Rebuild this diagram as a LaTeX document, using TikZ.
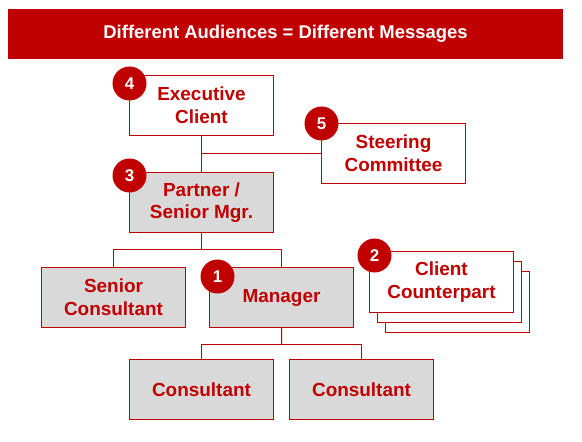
\documentclass[tikz,border=0pt]{standalone}
\usepackage{fontspec}
\setmainfont{Liberation Sans}
\usetikzlibrary{positioning}
\definecolor{deepred}{RGB}{192,0,0}
\definecolor{boxgray}{RGB}{217,217,217}

\begin{document}
\begin{tikzpicture}[x=1bp,y=-1bp,
  role/.style={draw=deepred,line width=1bp,outer sep=0pt,minimum width=144bp,minimum height=60bp,
    inner sep=0pt,align=center,text=deepred,font=\fontsize{19}{22.7}\selectfont\bfseries},
  staff/.style={role,fill=boxgray},
  client/.style={role,fill=white},
  badge/.style={circle,fill=deepred,minimum size=34bp,inner sep=0pt,text=white,
    font=\fontsize{17}{17}\selectfont\bfseries},
  link/.style={deepred,line width=1bp}]
\useasboundingbox (0,0) rectangle (582,442);

% title bar
\node[fill=deepred,minimum width=555bp,minimum height=50bp,inner sep=0pt,text=white,
  font=\fontsize{18.5}{20}\selectfont\bfseries] (title) at (285.5,34)
  {Different Audiences = Different Messages};

\begin{scope}[shift={(0.5,0.5)}]
% client side
\node[client] (exec) at (201,105) {Executive\\Client};
\node[client] (steer) at (393,153) {Steering\\Committee};
\node[client] (cc3) at (457,301.5) {};
\node[client] (cc2) at (449,291.5) {};
\node[client] (cc) at (441,281.5) {Client\\Counterpart};

% firm side
\node[staff] (partner) at (201,202) {Partner /\\Senior Mgr.};
\node[staff] (senior) at (113,297) {Senior\\Consultant};
\node[staff,right=24bp of senior] (manager) {Manager};
\node[staff] (cons1) at (201,389) {Consultant};
\node[staff,right=16bp of cons1] (cons2) {Consultant};

% connectors
\coordinate (sj) at (201,153);
\coordinate (pj) at (201,249);
\coordinate (mj) at (281,344);
\draw[link] (exec.south) -- (partner.north);
\draw[link] (sj) -- (steer.west);
\draw[link] (partner.south) -- (pj);
\draw[link] (senior.north) |- (pj) -| (manager.north);
\draw[link] (manager.south) -- (mj);
\draw[link] (cons1.north) |- (mj) -| (cons2.north);

% numbered badges
\node[badge] (b4) at (129,83) {4};
\node[badge] (b5) at (321,123) {5};
\node[badge] (b3) at (129,175) {3};
\node[badge] (b1) at (217,276) {1};
\node[badge] (b2) at (374,255) {2};
\end{scope}
\end{tikzpicture}
\end{document}
